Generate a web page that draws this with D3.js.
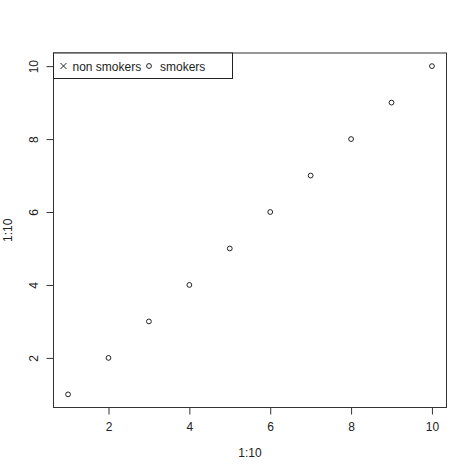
<!DOCTYPE html>
<html>
<head>
<meta charset="utf-8">
<script src="https://cdn.jsdelivr.net/npm/d3@7"></script>
<style>
  body { margin: 0; background: #fff; }
  text { font-family: "Liberation Sans", Arial, sans-serif; fill: #222; }
</style>
</head>
<body>
<svg id="chart" width="474" height="474"></svg>
<script>
// plot(1:10) with a horizontal legend
var xValues = [1, 2, 3, 4, 5, 6, 7, 8, 9, 10];
var yValues = [1, 2, 3, 4, 5, 6, 7, 8, 9, 10];
var xTicks = [2, 4, 6, 8, 10];
var yTicks = [2, 4, 6, 8, 10];
var legendLabels = ['non smokers', 'smokers'];
var xTitle = '1:10';
var yTitle = '1:10';

var svg = d3.select('#chart');
var box = {left: 53.5, right: 446.5, top: 53, bottom: 407.5};

// R pads the data range by 4% on each side
var padX = (d3.max(xValues) - d3.min(xValues)) * 0.04;
var x = d3.scaleLinear()
  .domain([d3.min(xValues) - padX, d3.max(xValues) + padX])
  .range([box.left, box.right]);
var padY = (d3.max(yValues) - d3.min(yValues)) * 0.04;
var y = d3.scaleLinear()
  .domain([d3.min(yValues) - padY, d3.max(yValues) + padY])
  .range([box.bottom, box.top]);

var xAxis = svg.append('g')
  .attr('transform', 'translate(0,' + box.bottom + ')')
  .call(d3.axisBottom(x).tickValues(xTicks).tickSize(7).tickPadding(6).tickFormat(d3.format('d')));
xAxis.select('.domain').attr('d', 'M' + x(xTicks[0]) + ',0H' + x(xTicks[xTicks.length - 1]));

var yAxis = svg.append('g')
  .attr('transform', 'translate(' + box.left + ',0)')
  .call(d3.axisLeft(y).tickValues(yTicks).tickSize(7).tickPadding(6).tickFormat(d3.format('d')));
yAxis.select('.domain').attr('d', 'M0,' + y(yTicks[0]) + 'V' + y(yTicks[yTicks.length - 1]));

svg.selectAll('.domain, .tick line').attr('stroke', '#333').attr('stroke-width', 1);
xAxis.selectAll('.tick text').attr('font-size', 12).attr('dy', '0.9em').style('fill', '#222');
// R draws left tick labels rotated, parallel to the axis
yAxis.selectAll('.tick text')
  .attr('font-size', 12)
  .attr('text-anchor', 'middle')
  .attr('x', 0).attr('y', 4).attr('dy', null)
  .attr('transform', 'translate(-20,0) rotate(-90)')
  .style('fill', '#222');

svg.append('rect')
  .attr('x', box.left).attr('y', box.top)
  .attr('width', box.right - box.left).attr('height', box.bottom - box.top)
  .attr('fill', 'none').attr('stroke', '#333').attr('stroke-width', 1);

svg.selectAll('.pt').data(xValues).enter().append('circle')
  .attr('class', 'pt')
  .attr('cx', function(d) { return x(d); })
  .attr('cy', function(d, i) { return y(yValues[i]); })
  .attr('r', 2.4)
  .attr('fill', 'none').attr('stroke', '#222').attr('stroke-width', 1);

svg.append('text')
  .attr('x', (box.left + box.right) / 2).attr('y', 457)
  .attr('text-anchor', 'middle').attr('font-size', 12).text(xTitle);
svg.append('text')
  .attr('transform', 'translate(12,' + (box.top + box.bottom) / 2 + ') rotate(-90)')
  .attr('text-anchor', 'middle').attr('font-size', 12).text(yTitle);

// legend
var legend = svg.append('g');
legend.append('rect')
  .attr('x', box.left).attr('y', box.top)
  .attr('width', 232.5 - box.left).attr('height', 78.5 - box.top)
  .attr('fill', '#fff').attr('stroke', '#222').attr('stroke-width', 1);
var ly = 66;
legend.append('path')
  .attr('d', 'M60.5,' + (ly - 3) + 'l6,6M60.5,' + (ly + 3) + 'l6,-6')
  .attr('stroke', '#222').attr('stroke-width', 1);
legend.append('text').attr('x', 72.5).attr('y', ly + 4.5).attr('font-size', 12).text(legendLabels[0]);
legend.append('circle').attr('cx', 149).attr('cy', ly).attr('r', 2.4)
  .attr('fill', 'none').attr('stroke', '#222').attr('stroke-width', 1);
legend.append('text').attr('x', 160).attr('y', ly + 4.5).attr('font-size', 12).text(legendLabels[1]);
</script>
</body>
</html>
